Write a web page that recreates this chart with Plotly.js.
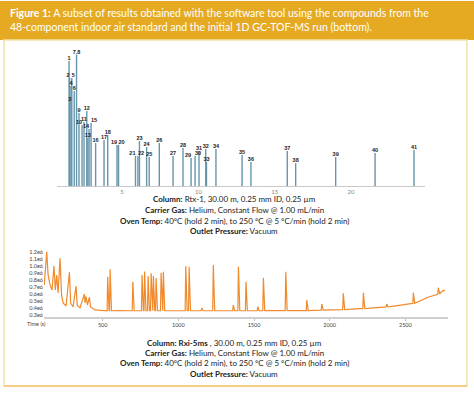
<!DOCTYPE html>
<html><head><meta charset="utf-8">
<script src="https://cdn.plot.ly/plotly-3.0.1.min.js"></script>
<style>html,body{margin:0;padding:0;background:#fff}#c{width:474px;height:393px}</style>
</head><body><div id="c"></div>
<script>
// ---- Top chromatogram (Rtx-1, retention time in minutes) ----
const peakLabels = ['1','2','3','4','5','6','7,8','9','10','11','12','13','14','15','16','17','18','19','20','21','22','23','24','25','26','27','28','29','30','31','32','33','34','35','36','37','38','39','40','41'];
const peakMinutes = [1.53,1.57,1.58,1.66,1.71,1.87,2.02,2.18,2.38,2.51,2.69,2.76,2.84,2.97,3.27,3.82,4.06,4.67,4.77,5.88,6.04,6.14,6.61,6.78,7.44,8.34,8.99,9.52,9.78,10.04,10.48,10.53,11.15,12.86,13.44,15.82,16.37,18.99,21.57,24.12];
const peakHeights = [125,108,84,100,108,95,131,73,61,64,75,48,57,63,43,46,51,41,41,30,30,45,39,29,43,30,38,28,30,35,37,24,37,31,24,35,23,29,33,36];
const topTicks = [5,10,15,20];

// ---- Bottom chromatogram (Rxi-5ms, time in s, intensity in 1e6) ----
const sigTime  = [114,126,130,139,152,165,178,187,196,205,218,228,238,258,280,288,304,324,331,350,379,383,390,399,412,420,449,600,1000,1500,1900,2002,2200,2400,2550,2650,2700,2740,2763];
const sigValue = [0.727,1.082,1.2,0.869,0.727,0.655,0.997,0.655,0.869,0.613,1.106,0.584,0.471,0.428,0.907,0.471,0.414,0.712,0.442,0.400,0.599,0.471,0.560,0.442,0.552,0.414,0.371,0.362,0.36,0.36,0.364,0.371,0.39,0.418,0.466,0.552,0.584,0.634,0.655];
const pkTime = [533,549,699,760,777,800,820,835,853,886,901,1049,1071,1155,1231,1363,1397,1447,1525,1562,1710,1849,1948,2090,2223,2377,2553,2718];
const pkTop  = [0.845,0.950,0.773,0.869,0.918,0.855,0.893,0.855,0.826,0.901,0.916,0.997,0.987,0.400,1.011,0.442,0.987,0.773,0.418,0.830,0.916,0.513,0.456,0.608,0.617,0.456,0.617,0.688];
const pkBase = [0.36,0.36,0.36,0.36,0.36,0.36,0.36,0.36,0.36,0.36,0.36,0.36,0.36,0.36,0.36,0.36,0.36,0.36,0.36,0.362,0.362,0.363,0.368,0.376,0.39,0.415,0.466,0.595];
const botTicksY = [0.3,0.4,0.5,0.6,0.7,0.8,0.9,1.0,1.1,1.2];
const botTickText = ['0.3e6','0.4e6','0.5e6','0.6e6','0.7e6','0.8e6','0.9e6','1.0e6','1.1e6','1.2e6'];
const botTicksX = [500,1000,1500,2000,2500];

// build top stick lines
const sx=[], sy=[];
peakMinutes.forEach((t,i)=>{sx.push(t,t,null); sy.push(0,peakHeights[i],null);});
// label placement (style only): nudge overlapping pairs apart
const leftSet = new Set(['2','10','14','19','21','29']);
const rightSet = new Set(['5','15','20','22','30']);
const textPos = peakLabels.map(l=>leftSet.has(l)?'top left':(rightSet.has(l)?'top right':'top center'));

// build bottom trace
let pts = sigTime.map((t,i)=>[t,sigValue[i]]);
pkTime.forEach((t,i)=>{pts.push([t-4,pkBase[i]],[t,pkTop[i]],[t+9,pkBase[i]]);});
pts.sort((a,b)=>a[0]-b[0]);

const W=474,H=393;
const px=x=>x/W, py=y=>1-y/H;
const FONT='Lato';

const data = [
  {type:'scatter',mode:'lines',x:sx,y:sy,xaxis:'x',yaxis:'y',line:{color:'#6796ac',width:1.4},hoverinfo:'skip'},
  {type:'scatter',mode:'text',x:peakMinutes,y:peakHeights,text:peakLabels,textposition:textPos,
   textfont:{family:'Liberation Sans',size:5.5,color:'#222',weight:'bold'},xaxis:'x',yaxis:'y',cliponaxis:false,hoverinfo:'skip'},
  {type:'scatter',mode:'lines',x:pts.map(p=>p[0]),y:pts.map(p=>p[1]),xaxis:'x2',yaxis:'y2',line:{color:'#f08a2c',width:1.2},hoverinfo:'skip'}
];

function txtLine(y,html){return {xref:'paper',yref:'paper',x:px(234),y:py(y),xanchor:'center',yanchor:'middle',showarrow:false,text:html,font:{family:FONT,size:8,color:'#222'}};}

const layout = {
  width:W,height:H,margin:{l:0,r:0,t:0,b:0},paper_bgcolor:'#fff',plot_bgcolor:'rgba(0,0,0,0)',showlegend:false,
  xaxis:{domain:[px(57),px(425)],range:[0.74,24.84],tickvals:topTicks,showline:true,linecolor:'#c8c8c8',linewidth:1,showgrid:false,zeroline:false,ticks:'',tickfont:{family:FONT,size:6,color:'#888'},anchor:'y'},
  yaxis:{domain:[py(186),py(45)],range:[0,141],visible:false,anchor:'x'},
  xaxis2:{domain:[px(44),px(448)],range:[112,2782],tickvals:botTicksX,showline:true,linecolor:'#cfcfcf',linewidth:1.5,showgrid:false,zeroline:false,ticks:'outside',ticklen:2,tickcolor:'#bbb',tickfont:{family:FONT,size:5.5,color:'#444'},anchor:'y2'},
  yaxis2:{domain:[py(317),py(248)],range:[0.271,1.2526],tickvals:botTicksY,ticktext:botTickText,showline:false,showgrid:false,zeroline:false,ticks:'',tickfont:{family:FONT,size:5.5,color:'#444'},anchor:'x2'},
  shapes:[
    {type:'rect',xref:'paper',yref:'paper',x0:0,x1:1,y0:py(40),y1:py(1),fillcolor:'#e5aa22',line:{width:0},layer:'below'},
    {type:'rect',xref:'paper',yref:'paper',x0:px(4),x1:px(467),y0:py(386),y1:py(40),fillcolor:'rgba(0,0,0,0)',line:{color:'#f4e2a6',width:1.5},layer:'below'},
    {type:'line',xref:'paper',yref:'paper',x0:px(4),x1:px(467),y0:py(386),y1:py(386),line:{color:'#f3c46f',width:1.5}}
  ],
  annotations:[
    {xref:'paper',yref:'paper',x:px(8),y:py(13),xanchor:'left',yanchor:'middle',showarrow:false,
     text:'<b>Figure 1:</b> A subset of results obtained with the software tool using the compounds from the',font:{family:FONT,size:10.5,color:'#fff'}},
    {xref:'paper',yref:'paper',x:px(8),y:py(27),xanchor:'left',yanchor:'middle',showarrow:false,
     text:'48-component indoor air standard and the initial 1D GC-TOF-MS run (bottom).',font:{family:FONT,size:10.5,color:'#fff'}},
    txtLine(199,'<b>Column:</b> Rtx-1, 30.00 m, 0.25 mm ID, 0.25 µm'),
    txtLine(210,'<b>Carrier Gas:</b> Helium, Constant Flow @ 1.00 mL/min'),
    txtLine(221,'<b>Oven Temp:</b> 40°C (hold 2 min), to 250 °C @ 5 °C/min (hold 2 min)'),
    txtLine(231.5,'<b>Outlet Pressure:</b> Vacuum'),
    txtLine(343,'<b>Column: Rxi-5ms</b> , 30.00 m, 0.25 mm ID, 0.25 µm'),
    txtLine(353,'<b>Carrier Gas:</b> Helium, Constant Flow @ 1.00 mL/min'),
    txtLine(363,'<b>Oven Temp:</b> 40°C (hold 2 min), to 250 °C @ 5 °C/min (hold 2 min)'),
    txtLine(374,'<b>Outlet Pressure:</b> Vacuum'),
    {xref:'paper',yref:'paper',x:px(25),y:py(324),xanchor:'left',yanchor:'middle',showarrow:false,text:'Time (s)',font:{family:FONT,size:5.5,color:'#444'}}
  ]
};
Plotly.newPlot('c',data,layout,{displayModeBar:false,staticPlot:true});
</script></body></html>
